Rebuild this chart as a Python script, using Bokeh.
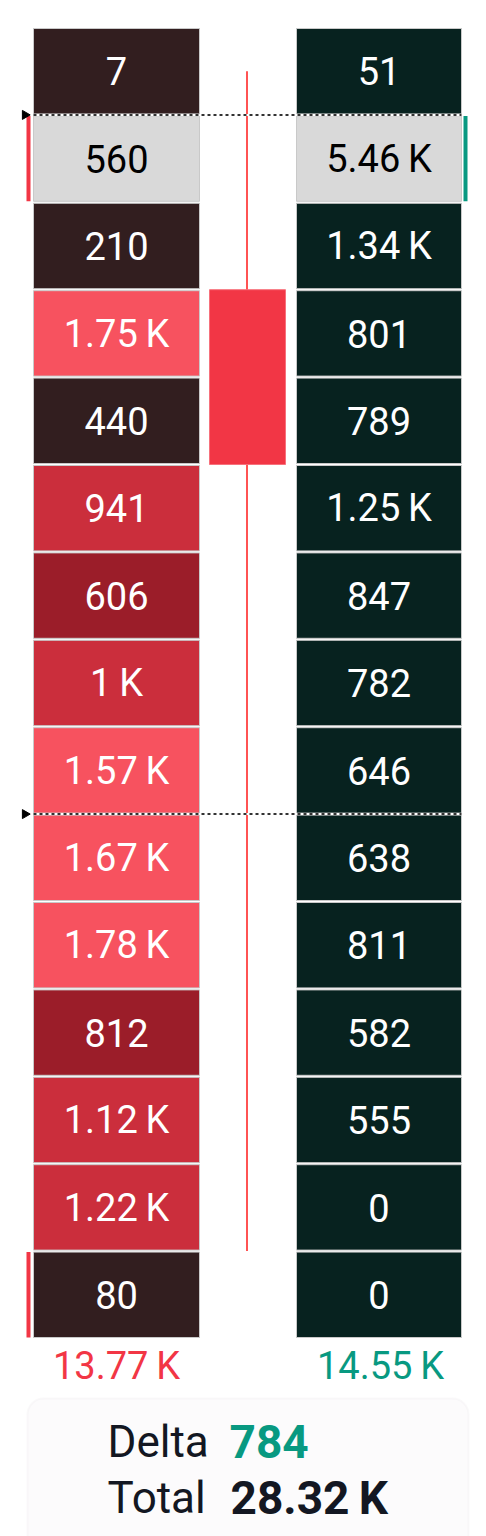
import math
from bokeh.plotting import figure
from bokeh.models import Range1d, BoxAnnotation, ColumnDataSource
from bokeh.core.properties import value
from bokeh.embed import file_html
from bokeh.resources import INLINE

# ---------------- data (top row first) ----------------
sell_volume = [7, 560, 210, 1750, 440, 941, 606, 1000, 1570, 1670, 1780, 812, 1120, 1220, 80]
buy_volume = [51, 5460, 1340, 801, 789, 1250, 847, 782, 646, 638, 811, 582, 555, 0, 0]
sell_total = 13770
buy_total = 14550
delta_value = 784
total_value = 28320
# candle in row units (row index = price level, 0 at top)
candle_high = 0.0
candle_open = 2.5
candle_close = 4.5
candle_low = 13.5
ref_levels = [0.5, 8.5]
poc_row = 1
sell_marker_rows = [1, 14]
buy_marker_rows = [1]

# ---------------- styles ----------------
SELL_SHADE = ["d", "p", "d", "b", "d", "m", "k", "m", "b", "b", "b", "k", "m", "m", "d"]
SELL_COLORS = {"d": "#321e1f", "b": "#f7525f", "m": "#cb2e3c", "k": "#9b1d29", "p": "#d9d9d9"}
BUY_DARK = "#07221f"
POC_COLOR = "#d9d9d9"
RED = "#f23645"
GREEN = "#089981"
INK = "#131722"
FONT = "Roboto"

# ---------------- layout helpers ----------------
ROW_H = 87.4
TOP = 27.0


def Y(img):
    return (img - TOP) / ROW_H - 0.5


def fmt(v):
    if v >= 1000:
        s = f"{v / 1000:.2f}".rstrip("0").rstrip(".")
        return s + "\u2009K"
    return str(v)


n = len(sell_volume)
rows = list(range(n))
inset = 1.0 / ROW_H
CELL_FS = 38
BOX_FS = 44
SHIFT = 0.36  # baseline correction, in em


W, H = 486, 1536
p = figure(width=W, height=H, x_range=Range1d(0, W), y_range=Range1d(Y(H), Y(0)),
           output_backend="svg", toolbar_location=None, min_border=0,
           x_axis_location=None, y_axis_location=None)
p.grid.visible = False
p.outline_line_color = None
p.background_fill_color = "white"
p.border_fill_color = "white"

sell_colors = [POC_COLOR if i == poc_row else SELL_COLORS[SELL_SHADE[i]] for i in rows]
buy_colors = [POC_COLOR if i == poc_row else BUY_DARK for i in rows]
sell_text_colors = ["black" if i == poc_row else "white" for i in rows]
buy_text_colors = ["black" if i == poc_row else "white" for i in rows]

cell_off = (13.8 - SHIFT * CELL_FS) / ROW_H
src = ColumnDataSource(dict(
    top=[r - 0.5 + inset for r in rows],
    bottom=[r + 0.5 - inset for r in rows],
    ty=[r + cell_off for r in rows],
    sell_lbl=[fmt(v) for v in sell_volume],
    buy_lbl=[fmt(v) for v in buy_volume],
    sell_col=sell_colors, buy_col=buy_colors,
    sell_tc=sell_text_colors, buy_tc=buy_text_colors,
))

LX0, LX1 = 33, 199
RX0, RX1 = 296, 461
p.quad(left=LX0, right=LX1, top="top", bottom="bottom", fill_color="sell_col",
       line_color="#c9c9c9", line_width=1, source=src)
p.quad(left=RX0, right=RX1, top="top", bottom="bottom", fill_color="buy_col",
       line_color="#c9c9c9", line_width=1, source=src)

p.text(x=(LX0 + LX1) / 2, y="ty", text="sell_lbl", text_color="sell_tc", text_align="center",
       text_baseline="alphabetic", text_font=value(FONT), text_font_size=f"{CELL_FS}px", source=src)
p.text(x=(RX0 + RX1) / 2, y="ty", text="buy_lbl", text_color="buy_tc", text_align="center",
       text_baseline="alphabetic", text_font=value(FONT), text_font_size=f"{CELL_FS}px", source=src)

# candle
CX = 246.5
p.segment(x0=[CX], y0=[candle_high], x1=[CX], y1=[candle_low], line_color="#ff1a1a", line_width=1.5)
p.quad(left=[209], right=[285], top=[candle_open], bottom=[candle_close],
       fill_color=RED, line_color="#f7717c", line_width=1)

# side markers
p.quad(left=26, right=30, top=[r - 0.5 + inset for r in sell_marker_rows],
       bottom=[r + 0.5 - inset for r in sell_marker_rows], fill_color=RED, line_color=None)
p.quad(left=463, right=467, top=[r - 0.5 + inset for r in buy_marker_rows],
       bottom=[r + 0.5 - inset for r in buy_marker_rows], fill_color=GREEN, line_color=None)

# reference price lines
for lv in ref_levels:
    p.segment(x0=[LX0], y0=[lv], x1=[RX1], y1=[lv], line_color="white", line_width=2)
    p.segment(x0=[LX0], y0=[lv], x1=[RX1], y1=[lv], line_color="#333333", line_width=2,
              line_dash="3 3")
p.scatter(x=[24.5] * len(ref_levels), y=ref_levels, marker="triangle", angle=-math.pi / 2,
          size=9, color="black")


def ty(img_baseline, fs):
    return Y(img_baseline - SHIFT * fs)


# totals
p.text(x=[(LX0 + LX1) / 2], y=[ty(1379, CELL_FS)], text=[fmt(sell_total)], text_color=RED,
       text_align="center", text_baseline="alphabetic", text_font=value(FONT),
       text_font_size=f"{CELL_FS}px")
p.text(x=[380], y=[ty(1379, CELL_FS)], text=[fmt(buy_total)], text_color=GREEN,
       text_align="center", text_baseline="alphabetic", text_font=value(FONT),
       text_font_size=f"{CELL_FS}px")

# summary box
box = BoxAnnotation(left=27, right=468, top=Y(1398), bottom=Y(1620), border_radius=16,
                    fill_color="#fcfbfc", fill_alpha=1, line_color="#eeebee", line_width=2,
                    level="underlay")
p.add_layout(box)

p.text(x=[107], y=[ty(1457, BOX_FS)], text=["Delta"], text_color=INK, text_align="left",
       text_baseline="alphabetic", text_font=value(FONT), text_font_size=f"{BOX_FS}px")
p.text(x=[229], y=[ty(1457, BOX_FS)], text=[str(delta_value)], text_color=GREEN, text_align="left",
       text_baseline="alphabetic", text_font=value(FONT), text_font_size="46px",
       text_font_style="bold")
p.text(x=[107], y=[ty(1513, BOX_FS)], text=["Total"], text_color=INK, text_align="left",
       text_baseline="alphabetic", text_font=value(FONT), text_font_size=f"{BOX_FS}px")
p.text(x=[230], y=[ty(1513, BOX_FS)], text=[fmt(total_value)], text_color=INK, text_align="left",
       text_baseline="alphabetic", text_font=value(FONT), text_font_size="46px",
       text_font_style="bold")

open("out.html", "w").write(file_html(p, INLINE))
